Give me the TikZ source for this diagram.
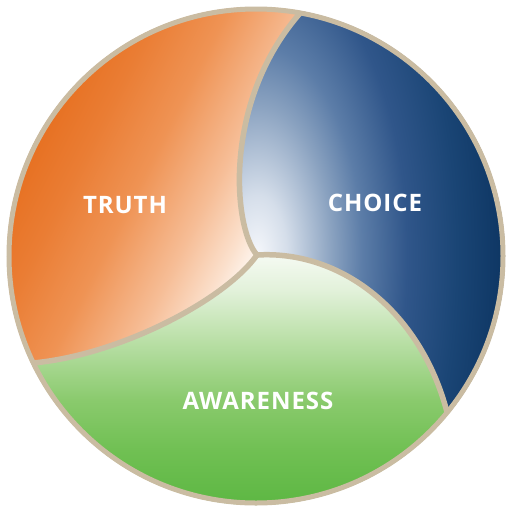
\documentclass[tikz,border=0pt]{standalone}
\usepackage{fontspec}
\setsansfont{Open Sans}
\usepackage{xcolor}
\usetikzlibrary{positioning}
\definecolor{rim}{HTML}{CABCA2}
\definecolor{orangei}{HTML}{FEF4EC}
\definecolor{orangeii}{HTML}{FBE0CC}
\definecolor{orangeiii}{HTML}{F6BD96}
\definecolor{orangeiv}{HTML}{EF9354}
\definecolor{orangev}{HTML}{EA7D34}
\definecolor{orangevi}{HTML}{E66E1E}
\definecolor{bluei}{HTML}{F5F7FB}
\definecolor{blueii}{HTML}{D5DEEA}
\definecolor{blueiii}{HTML}{8AA2C0}
\definecolor{blueiv}{HTML}{5C7DA8}
\definecolor{bluev}{HTML}{30568A}
\definecolor{bluevi}{HTML}{1A4575}
\definecolor{bluevii}{HTML}{0D3562}
\definecolor{greeni}{HTML}{F5FAF2}
\definecolor{greenii}{HTML}{E2F1DA}
\definecolor{greeniii}{HTML}{C2E3B1}
\definecolor{greeniv}{HTML}{8ACA6D}
\definecolor{greenv}{HTML}{70C053}
\definecolor{greenvi}{HTML}{5DB743}
% orange runs dark -> light along a tilted axis (middle half of the square)
\pgfdeclareverticalshading{truthfade}{100bp}{%
  color(0bp)=(orangevi); color(37.5bp)=(orangevi); color(43.3bp)=(orangev);
  color(49.3bp)=(orangeiv); color(55.9bp)=(orangeiii); color(60.3bp)=(orangeii);
  color(62.5bp)=(orangei); color(100bp)=(orangei)}
% blue is radial about the hub, squeezed sideways (rim of the ellipse at 25bp)
\pgfdeclareradialshading{choicefade}{\pgfpoint{0bp}{0bp}}{%
  color(0bp)=(bluei); color(3bp)=(blueii); color(7.5bp)=(blueiii);
  color(10.5bp)=(blueiv); color(15bp)=(bluev); color(20bp)=(bluevi);
  color(25bp)=(bluevii); color(50bp)=(bluevii)}
% green runs bottom -> top
\pgfdeclareverticalshading{awarefade}{100bp}{%
  color(0bp)=(greenvi); color(25bp)=(greenvi); color(36bp)=(greenv);
  color(46bp)=(greeniv); color(60bp)=(greeniii); color(68bp)=(greenii);
  color(75bp)=(greeni); color(100bp)=(greeni)}
\tikzset{
  divider/.style = {draw=rim, line width=5.5pt, line cap=round},
  word/.style    = {font=\fontsize{24}{26}\selectfont\sffamily\bfseries\addfontfeatures{LetterSpace=4},
                    text=white, inner sep=0pt, outer sep=0pt},
}

\begin{document}
\begin{tikzpicture}[x=1pt,y=-1pt]
\path[use as bounding box] (0,0) rectangle (512,512);

\coordinate (hub)   at (257,255);
\coordinate (top)   at (302,11);
\coordinate (left)  at (33,363);
\coordinate (right) at (447,412);
\coordinate (mid)   at (256,256);

% ---- three sectors, each clipped to the disc ---------------------------
\begin{scope}
  \clip (mid) circle (249);
  \clip (hub) .. controls (233,228) and (222,100) .. (top) -- (302,-60)
    -- (-60,-60) -- (-60,363) -- (left) .. controls (120,355) and (225,300) .. (hub);
  \shade[shading=truthfade, shading angle=-117] (-113,-70) rectangle (403,446);
\end{scope}
\begin{scope}
  \clip (mid) circle (249);
  \clip (hub) .. controls (233,228) and (222,100) .. (top) -- (302,-60)
    -- (580,-60) -- (580,412) -- (right) .. controls (420,310) and (340,250) .. (hub);
  \shade[shading=choicefade] (hub) ellipse (250 and 500);
\end{scope}
\begin{scope}
  \clip (mid) circle (249);
  \clip (hub) .. controls (225,300) and (120,355) .. (left) -- (-60,363)
    -- (-60,580) -- (580,580) -- (580,412) -- (right) .. controls (420,310) and (340,250) .. (hub);
  \shade[shading=awarefade] (0,255) rectangle (512,505);
\end{scope}

% ---- dividers and rim --------------------------------------------------
\begin{scope}
  \clip (mid) circle (249);
  \draw[divider] (hub) .. controls (233,228) and (222,100) .. (top);
  \draw[divider] (hub) .. controls (225,300) and (120,355) .. (left);
  \draw[divider] (hub) .. controls (340,250) and (420,310) .. (right);
\end{scope}
\draw[rim, line width=5pt] (mid) circle (247);

% ---- words -------------------------------------------------------------
\node[word] (truth)     at (125,205) {TRUTH};
\node[word] (choice)    at (375,203) {CHOICE};
\node[word] (awareness) at (258,401) {AWARENESS};

\end{tikzpicture}
\end{document}
